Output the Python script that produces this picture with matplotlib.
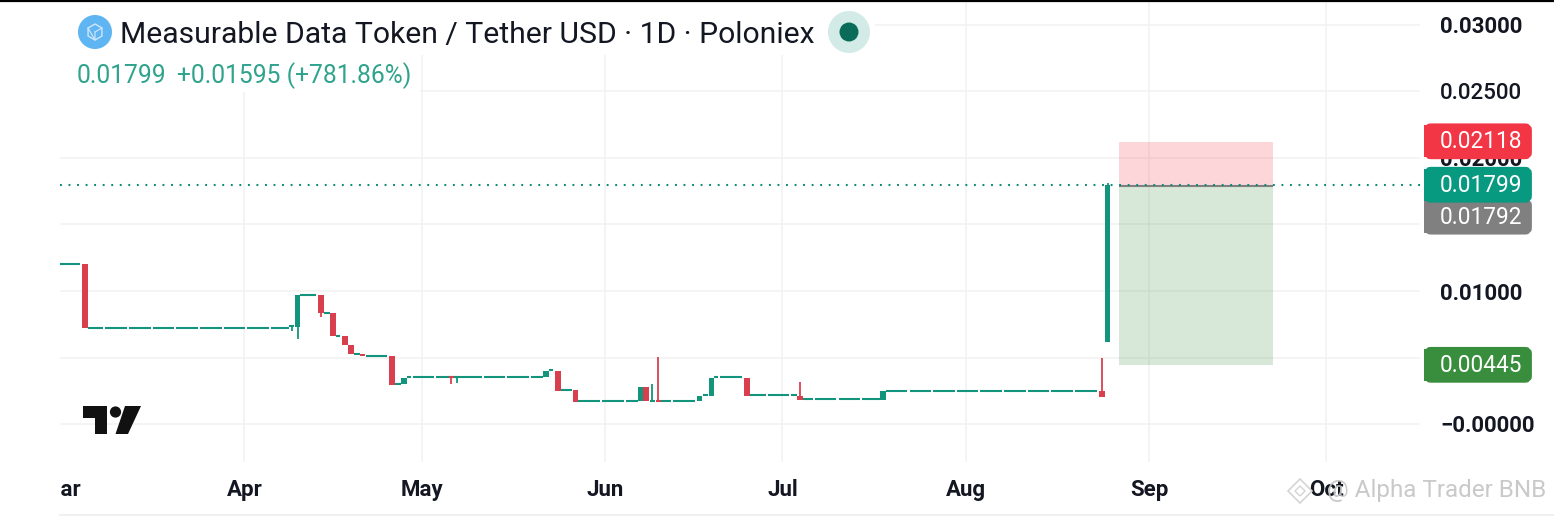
import matplotlib
matplotlib.use("Agg")
import matplotlib.pyplot as plt
import matplotlib.dates as mdates
import matplotlib.patches as mpatches
import pandas as pd

plt.rcParams['font.family'] = ['Roboto', 'DejaVu Sans']

# candles that actually moved
candle_dates = ["2025-03-05", "2025-04-09", "2025-04-10", "2025-04-14", "2025-04-16", "2025-04-18",
                "2025-04-19", "2025-04-21", "2025-04-26", "2025-04-28", "2025-05-06", "2025-05-07",
                "2025-05-22", "2025-05-24", "2025-05-27", "2025-06-07", "2025-06-08", "2025-06-09",
                "2025-06-10", "2025-06-17", "2025-06-19", "2025-06-25", "2025-07-04", "2025-07-18",
                "2025-08-24", "2025-08-25"]
opens = [0.01205, 0.00737, 0.00727, 0.00970, 0.00832, 0.00659, 0.00594, 0.00524, 0.00514, 0.00299, 0.00354, 0.00353,
         0.00353, 0.00398, 0.00256, 0.00173, 0.00276, 0.00173, 0.00174, 0.00173, 0.00210, 0.00348, 0.00210, 0.00183,
         0.00250, 0.00616]
closes = [0.00719, 0.00737, 0.00970, 0.00832, 0.00659, 0.00594, 0.00524, 0.00511, 0.00296, 0.00346, 0.00353, 0.00353,
          0.00398, 0.00250, 0.00168, 0.00276, 0.00173, 0.00173, 0.00173, 0.00210, 0.00348, 0.00210, 0.00183, 0.00248,
          0.00203, 0.01799]
highs = [0.01205, 0.00737, 0.00970, 0.00970, 0.00832, 0.00659, 0.00594, 0.00524, 0.00514, 0.00346, 0.00354, 0.00353,
         0.00398, 0.00398, 0.00256, 0.00276, 0.00276, 0.00301, 0.00501, 0.00210, 0.00348, 0.00348, 0.00314, 0.00248,
         0.00498, 0.01809]
lows = [0.00719, 0.00701, 0.00637, 0.00807, 0.00659, 0.00594, 0.00524, 0.00511, 0.00296, 0.00299, 0.00303, 0.00311,
        0.00353, 0.00250, 0.00168, 0.00173, 0.00173, 0.00173, 0.00173, 0.00173, 0.00210, 0.00210, 0.00183, 0.00183,
        0.00203, 0.00616]

# stretches where open == close, price barely trades
flat_first = ["2025-03-01", "2025-03-06", "2025-04-11", "2025-04-15", "2025-04-17", "2025-04-20", "2025-04-22",
              "2025-04-27", "2025-04-29", "2025-05-23", "2025-05-25", "2025-05-28", "2025-06-11", "2025-06-18",
              "2025-06-20", "2025-06-26", "2025-07-05", "2025-07-19"]
flat_last = ["2025-03-04", "2025-04-08", "2025-04-13", "2025-04-15", "2025-04-17", "2025-04-20", "2025-04-25",
             "2025-04-27", "2025-05-21", "2025-05-23", "2025-05-26", "2025-06-06", "2025-06-16", "2025-06-18",
             "2025-06-24", "2025-07-03", "2025-07-17", "2025-08-23"]
flat_price = [0.01205, 0.00719, 0.00972, 0.00835, 0.00662, 0.00529, 0.00514,
              0.00299, 0.00353, 0.00404, 0.00258, 0.00173, 0.00173, 0.00216,
              0.00353, 0.00215, 0.00188, 0.00250]

month_dates = ["2025-03-01", "2025-04-01", "2025-05-01", "2025-06-01", "2025-07-01", "2025-08-01", "2025-09-01", "2025-10-01"]
month_labels = ["Mar", "Apr", "May", "Jun", "Jul", "Aug", "Sep", "Oct"]
price_ticks = [0.0, 0.005, 0.01, 0.015, 0.02, 0.025, 0.03]
price_labels = ["\u22120.00000", "", "0.01000", "", "0.02000", "0.02500", "0.03000"]

last_price = 0.01799
entry_price = 0.01792
stop_price = 0.02118
target_price = 0.00445
box_start = "2025-08-27"
box_end = "2025-09-22"

GREEN = "#12947d"
RED = "#d8404f"
W, H = 1554, 517


def num(d):
    return mdates.date2num(pd.to_datetime(d))


fig = plt.figure(figsize=(W / 100, H / 100), dpi=100, facecolor="white")
ax = fig.add_axes([60 / W, (H - 462) / H, 1360 / W, 461 / H])
x_apr = num("2025-04-01")
ax.set_xlim(x_apr + (60 - 244.3) / 5.913, x_apr + (1420 - 244.3) / 5.913)
ax.set_ylim((424 - 462) / 13300, (424 - 1) / 13300)
for s in ax.spines.values():
    s.set_visible(False)

ax.set_xticks(num(month_dates))
ax.set_xticklabels(month_labels, fontsize=16, fontweight="bold", color="#131722")
ax.yaxis.tick_right()
ax.set_yticks(price_ticks)
ax.set_yticklabels(price_labels, fontsize=16, fontweight="bold", color="#131722")
ax.get_yticklabels()[5].set_fontweight("medium")
ax.tick_params(axis="x", length=0, pad=12.5)
ax.tick_params(axis="y", length=0, pad=14.5)
ax.grid(True, color="#f1f1f2", lw=1.1)
ax.get_xgridlines()[0].set_visible(False)
ax.set_axisbelow(True)

# flat days, a little gap every 4th one like on the original
for first, last, price in zip(flat_first, flat_last, flat_price):
    for d in pd.date_range(first, last):
        x = num(d)
        gap = 0.35 if int(x) % 4 == 3 else 0
        ax.hlines(price, x - 0.5, x + 0.5 - gap, color=GREEN, lw=1.5, zorder=3)

xs = num(candle_dates)
for x, o, c, hi, lo in zip(xs, opens, closes, highs, lows):
    col = GREEN if c >= o else RED
    ax.vlines(x, lo, hi, color=col, lw=1.3, zorder=3)
    if abs(c - o) < 0.00002:
        ax.hlines(c, x - 0.45, x + 0.45, color=col, lw=1.5, zorder=3)
    else:
        ax.bar(x, abs(c - o), bottom=min(o, c), width=0.98, color=col, zorder=3)

# long position tool
x0, x1 = num(box_start), num(box_end)
ax.add_patch(mpatches.Rectangle((x0, entry_price), x1 - x0, stop_price - entry_price,
                                facecolor="#f23645", alpha=0.2, lw=0, zorder=2))
ax.add_patch(mpatches.Rectangle((x0, target_price), x1 - x0, entry_price - target_price,
                                facecolor="#388e3c", alpha=0.2, lw=0, zorder=2))
ax.hlines(entry_price, x0, x1, color="#808080", lw=1.5, zorder=4)
ax.axhline(last_price, color="#0f8a78", lw=1.5, ls=(0, (0.9, 3.2)), zorder=4)

# overlay in pixel coordinates, for the header and the price tags
ov = fig.add_axes([0, 0, 1, 1], facecolor="none")
ov.set_xlim(0, W)
ov.set_ylim(H, 0)
ov.axis("off")

ov.add_patch(mpatches.Rectangle((0, 0), 60, H, facecolor="white", lw=0))
ov.add_patch(mpatches.Rectangle((60, 2), 815, 53, facecolor="white", lw=0))
ov.add_patch(mpatches.Rectangle((60, 55), 360, 37, facecolor="white", lw=0))
ov.plot([0, W], [0.5, 0.5], color="black", lw=1.6)
ov.plot([60, W], [514.5, 514.5], color="#eeeeee", lw=1.2)

ov.add_patch(mpatches.Circle((95, 32), 17, facecolor="#5fb4f2", lw=0))
ov.add_patch(mpatches.RegularPolygon((95, 32), 6, radius=8, fill=False, edgecolor="#cfe8fb", lw=1))
ov.plot([95, 95, 88], [32, 40, 28], color="#cfe8fb", lw=0.8)
ov.plot([95, 102], [32, 28], color="#cfe8fb", lw=0.8)
ov.text(120, 35, "Measurable Data Token / Tether USD \u00b7 1D \u00b7 Poloniex", fontsize=21.7,
        color="#131722", va="center", ha="left")
ov.add_patch(mpatches.Circle((849, 32), 21, facecolor="#d3ebe6", lw=0))
ov.add_patch(mpatches.Circle((849, 32), 9.5, facecolor="#0b6b59", lw=0))
ov.text(77, 76, "0.01799", fontsize=17.7, color="#2fa38c", va="center")
ov.text(177, 76, "+0.01595 (+781.86%)", fontsize=17.7, color="#2fa38c", va="center")

# TradingView mark
ov.add_patch(mpatches.Polygon([(83, 406), (107, 406), (107, 434), (95, 434), (95, 418), (83, 418)], facecolor="#111111", lw=0))
ov.add_patch(mpatches.Circle((115.5, 412), 5.6, facecolor="#111111", lw=0))
ov.add_patch(mpatches.Polygon([(125, 406), (141, 406), (128, 434), (115.5, 434)], facecolor="#111111", lw=0))


def tag(y, text, col):
    ov.add_patch(mpatches.FancyBboxPatch((1428, y - 14), 100, 28, boxstyle="round,pad=0,rounding_size=3",
                                         mutation_aspect=1, facecolor=col, edgecolor=col, lw=5.6))
    ov.add_patch(mpatches.Rectangle((1424, y - 16), 8, 32, facecolor=col, lw=0))
    ov.text(1439.5, y + 0.5, text, fontsize=16.3, color="white", va="center", ha="left")


def price_y(p):
    return H - ax.transData.transform((0, p))[1]


tag(price_y(stop_price) - 1, "%.5f" % stop_price, "#f23645")
tag(price_y(entry_price) + 31, "%.5f" % entry_price, "#808080")
tag(price_y(last_price), "%.5f" % last_price, "#089981")
tag(price_y(target_price), "%.5f" % target_price, "#388e3c")

# watermark
ov.text(1327, 491, "@ Alpha Trader BNB", fontsize=17.5, color="#c4c4c4", va="center", alpha=0.9)
ov.add_patch(mpatches.RegularPolygon((1300, 491), 4, radius=12, fill=False, edgecolor="#d4d4d4", lw=1.2))
ov.add_patch(mpatches.RegularPolygon((1300, 491), 4, radius=5, fill=False, edgecolor="#d4d4d4", lw=1.0))

fig.savefig("out.png", dpi=100)
